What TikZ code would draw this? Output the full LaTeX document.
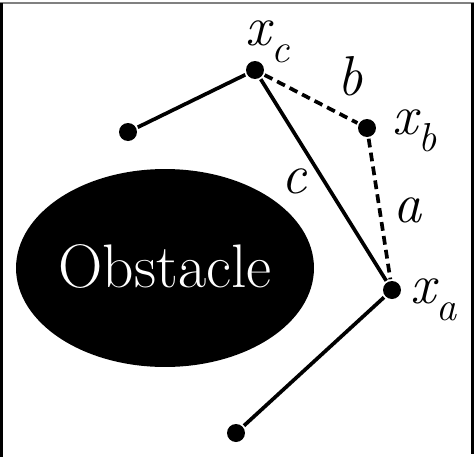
\documentclass[tikz,border=0pt]{standalone}
\usepackage{fontspec}
\newcommand{\sublab}[2]{#1\raisebox{-10pt}{\fontsize{23}{25}\selectfont #2}}
\begin{document}
\begin{tikzpicture}[x=0.02cm, y=-0.02cm, line width=2.1pt,
  joint/.style={circle, fill, inner sep=0pt, minimum size=0.36cm},
  lbl/.style={anchor=base west, inner sep=0pt, font=\fontsize{32}{34}\selectfont\itshape}]
\useasboundingbox (0,0) rectangle (474,457);
\draw[gray, line width=0.6pt] (0,3) -- (474,3);
\draw[line width=2.2pt] (1.5,3) -- (1.5,457);
\draw[line width=1.6pt] (472.5,3) -- (472.5,454);
\fill (165,268) ellipse [x radius=2.98cm, y radius=1.98cm];
\draw (165,287) node[anchor=base, text=white, font=\fontsize{35}{38}\selectfont] (obs) {Obstacle};
\draw (128,132) node[joint] (p){};
\draw (255,70) node[joint] (xc){};
\draw (367,128) node[joint] (xb){};
\draw (392,290) node[joint] (xa){};
\draw (236,433) node[joint] (q){};
\draw (p) -- (xc) -- (xa) -- (q);
\draw[dashed, dash pattern=on 5pt off 3pt] (xc) -- (xb) -- (xa);
\draw (244,45) node[lbl] (lc) {\sublab{x}{c}};
\draw (391,134) node[lbl] (lb) {\sublab{x}{b}};
\draw (409,303) node[lbl] (la) {\sublab{x}{a}};
\draw (336,95) node[lbl] (sb) {b};
\draw (280,193) node[lbl] (sc) {c};
\draw (392,222) node[lbl] (sa) {a};
\end{tikzpicture}
\end{document}
